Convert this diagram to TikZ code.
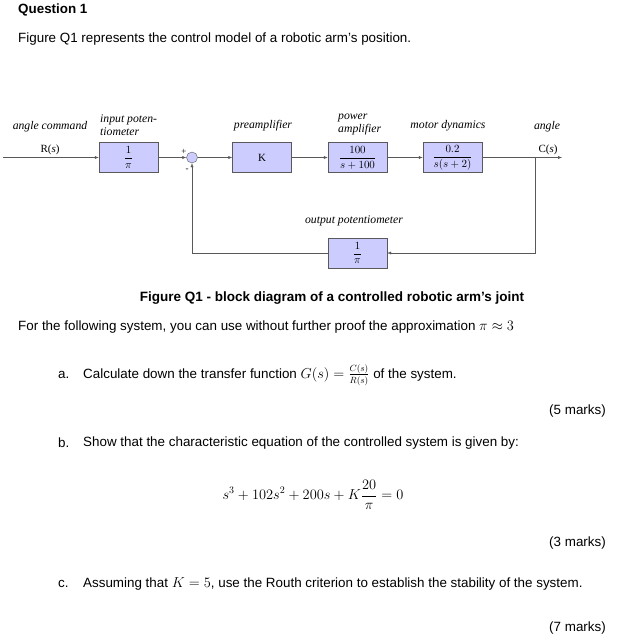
\documentclass[tikz,border=0pt]{standalone}
\usepackage{amsmath}
\usepackage{amssymb}
\usepackage{fontspec}
\setmainfont{Liberation Sans}
\newfontfamily\diagfont{Liberation Serif}
\usetikzlibrary{arrows.meta}

\tikzset{
  block/.style={draw=black!65, fill=blue!20, minimum width=59pt, minimum height=30pt,
    inner sep=0pt, font=\diagfont\fontsize{11}{12}\selectfont},
  sumpt/.style={circle, draw=black!65, fill=blue!20, minimum size=11pt, inner sep=0pt},
  lbl/.style={font=\diagfont\itshape\fontsize{11.7}{13}\selectfont, align=left, inner sep=0pt},
  sgn/.style={font=\diagfont\fontsize{9}{10}\selectfont, inner sep=0pt},
  sig/.style={draw=black!65, -{Latex[length=4pt,width=3pt]}},
  body/.style={anchor=west, inner sep=0pt, font=\fontsize{13.4}{15}\selectfont},
}

\begin{document}
\begin{tikzpicture}[x=1pt, y=-1pt]
  \useasboundingbox (0,0) rectangle (624,640);

  % header
  \node[body, font=\bfseries\fontsize{13.4}{15}\selectfont] (title) at (18,10) {Question 1};
  \node[body] (intro) at (18,39) {Figure Q1 represents the control model of a robotic arm's position.};

  % blocks
  \node[block] (pin) at (128.5,157.5) {$\dfrac{1}{\pi}$};
  \node[sumpt] (sum) at (192,157.5) {};
  \node[block] (pre) at (262,157.5) {K};
  \node[block] (pamp) at (357.5,157.5) {$\dfrac{100}{s+100}$};
  \node[block] (motor) at (452.5,157.5) {$\dfrac{0.2}{s(s+2)}$};
  \node[block] (opot) at (357.5,253) {$\dfrac{1}{\pi}$};
  \coordinate (in) at (3,157.5);
  \coordinate (out) at (562,157.5);
  \coordinate (br) at (535,157.5);

  % labels
  \node[lbl] (lcmd) at (50,127) {angle command};
  \node[lbl, font=\diagfont\fontsize{11}{12}\selectfont] (lR) at (50,150) {R(\textit{s})};
  \node[lbl, anchor=west] (lpin) at (100,125) {input poten-\\tiometer};
  \node[lbl] (lpre) at (263,126) {preamplifier};
  \node[lbl, anchor=west] (lpamp) at (338,124) {power\\amplifier};
  \node[lbl] (lmotor) at (448,126) {motor dynamics};
  \node[lbl] (langle) at (547,127) {angle};
  \node[lbl, font=\diagfont\fontsize{11}{12}\selectfont] (lC) at (548,150) {C(\textit{s})};
  \node[lbl] (lopot) at (354,221) {output potentiometer};
  \node[sgn] (plus) at (184,152) {+};
  \node[sgn] (minus) at (187,170) {-};

  % signals
  \draw[sig] (in) -- (pin);
  \draw[sig] (pin) -- (sum);
  \draw[sig] (sum) -- (pre);
  \draw[sig] (pre) -- (pamp);
  \draw[sig] (pamp) -- (motor);
  \draw[sig] (motor) -- (out);
  \draw[sig] (br) |- (opot);
  \draw[sig] (opot) -| (sum);

  % questions
  \node[font=\bfseries\fontsize{13.5}{15}\selectfont, inner sep=0pt] (cap) at (332,298) {Figure Q1 - block diagram of a controlled robotic arm's joint};
  \node[body] (note) at (18,327) {For the following system, you can use without further proof the approximation $\pi\approx 3$};
  \node[body] (qa) at (58,375) {a.};
  \node[body] (ta) at (83,375) {Calculate down the transfer function $G(s)=\frac{C(s)}{R(s)}$ of the system.};
  \node[body, anchor=east] (ma) at (606,411) {(5 marks)};
  \node[body] (qb) at (58,443) {b.};
  \node[body] (tb) at (83,443) {Show that the characteristic equation of the controlled system is given by:};
  \node[font=\fontsize{13.7}{16}\selectfont] (eq) at (313,495) {$\displaystyle s^3+102s^2+200s+K\frac{20}{\pi}=0$};
  \node[body, anchor=east] (mb) at (606,543) {(3 marks)};
  \node[body] (qc) at (58,584) {c.};
  \node[body] (tc) at (83,584) {Assuming that $K=5$, use the Routh criterion to establish the stability of the system.};
  \node[body, anchor=east] (mc) at (606,628) {(7 marks)};
\end{tikzpicture}
\end{document}
